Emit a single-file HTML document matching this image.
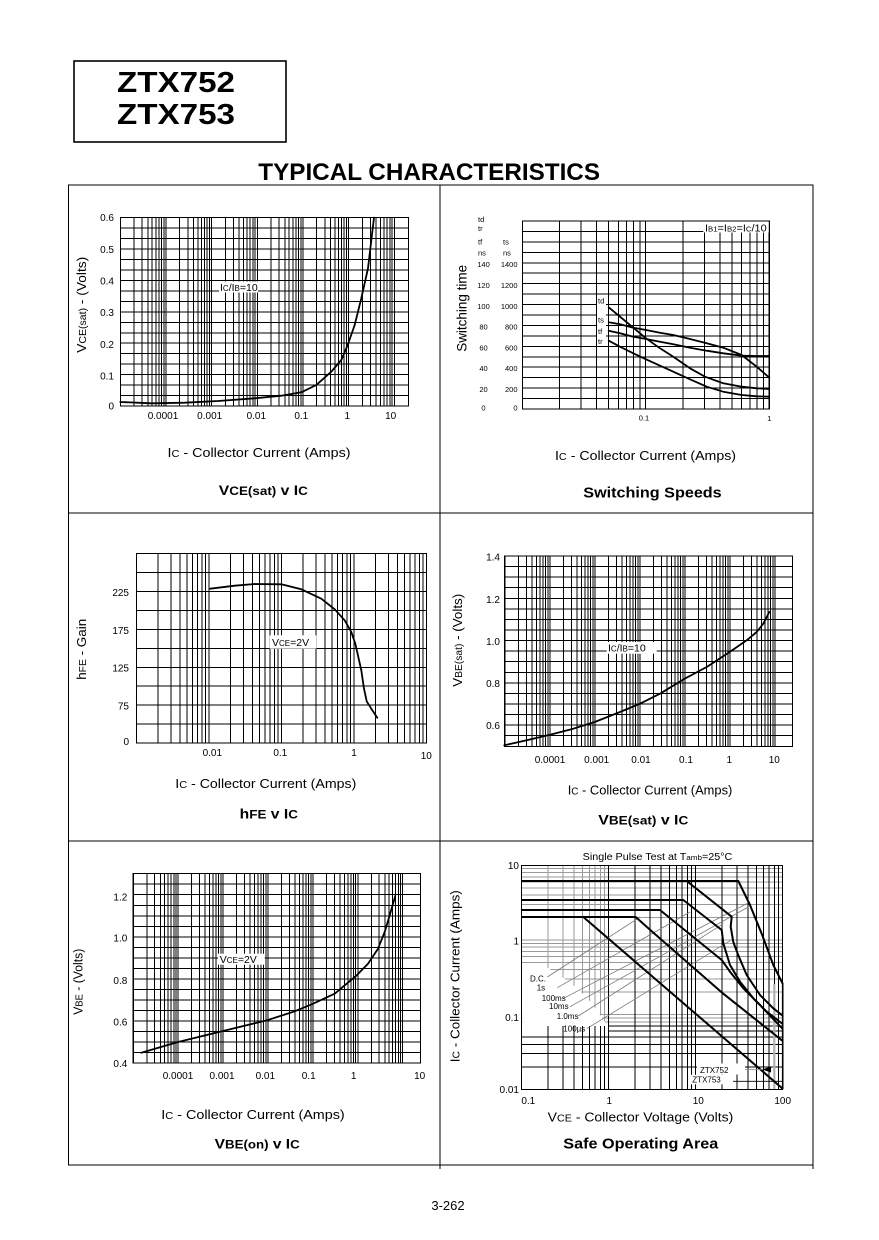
<!DOCTYPE html>
<html><head><meta charset="utf-8">
<style>
html,body{margin:0;padding:0;background:#fff;}
svg{display:block;}
text{font-family:"Liberation Sans",Arial,sans-serif;fill:#000;}
.g{fill:none;stroke:#000;stroke-width:1;shape-rendering:crispEdges;}
.gr{fill:none;stroke:#9a9a9a;stroke-width:1;shape-rendering:crispEdges;}
.c{fill:none;stroke:#000;stroke-width:1.8;stroke-linejoin:round;stroke-linecap:round;}
.s{fill:none;stroke:#000;stroke-width:2;stroke-linejoin:round;}
.ld{fill:none;stroke:#7a7a7a;stroke-width:0.8;}
.t{font-size:10px;}
.tm{text-anchor:middle;}
.te{text-anchor:end;}
.b{font-weight:bold;}
</style></head><body>
<svg width="879" height="1240" viewBox="0 0 879 1240" xmlns="http://www.w3.org/2000/svg">
<rect x="0" y="0" width="879" height="1240" fill="#fff"/>

<!-- Header -->
<rect x="74" y="61" width="212" height="81" fill="none" stroke="#000" stroke-width="1.6"/>
<text x="117" y="92" font-size="29" class="b" textLength="118" lengthAdjust="spacingAndGlyphs">ZTX752</text>
<text x="117" y="124" font-size="29" class="b" textLength="118" lengthAdjust="spacingAndGlyphs">ZTX753</text>
<text x="258.3" y="180" font-size="24" class="b" textLength="341.7" lengthAdjust="spacingAndGlyphs">TYPICAL CHARACTERISTICS</text>

<!-- Outer frame -->
<rect x="68.5" y="185" width="744.5" height="980" class="g"/>
<path class="g" d="M440 185V1165M68.5 513H813M68.5 841H813"/>

<!-- ============ Chart 1: VCE(sat) v IC ============ -->
<path class="g" vector-effect="non-scaling-stroke" transform="translate(120.3,217.7) scale(45.67,188.3)" d="M0 0V1M.30103 0V1M.47712 0V1M.60206 0V1M.69897 0V1M.77815 0V1M.8451 0V1M.90309 0V1M.95424 0V1M1 0V1M1.30103 0V1M1.47712 0V1M1.60206 0V1M1.69897 0V1M1.77815 0V1M1.8451 0V1M1.90309 0V1M1.95424 0V1M2 0V1M2.30103 0V1M2.47712 0V1M2.60206 0V1M2.69897 0V1M2.77815 0V1M2.8451 0V1M2.90309 0V1M2.95424 0V1M3 0V1M3.30103 0V1M3.47712 0V1M3.60206 0V1M3.69897 0V1M3.77815 0V1M3.8451 0V1M3.90309 0V1M3.95424 0V1M4 0V1M4.30103 0V1M4.47712 0V1M4.60206 0V1M4.69897 0V1M4.77815 0V1M4.8451 0V1M4.90309 0V1M4.95424 0V1M5 0V1M5.30103 0V1M5.47712 0V1M5.60206 0V1M5.69897 0V1M5.77815 0V1M5.8451 0V1M5.90309 0V1M5.95424 0V1M6 0V1"/>
<path class="g" vector-effect="non-scaling-stroke" transform="translate(120.3,217.7) scale(288.4,10.461)" d="M0 0H1M0 1H1M0 2H1M0 3H1M0 4H1M0 5H1M0 6H1M0 7H1M0 8H1M0 9H1M0 10H1M0 11H1M0 12H1M0 13H1M0 14H1M0 15H1M0 16H1M0 17H1M0 18H1"/>
<rect x="120.3" y="217.7" width="288.4" height="188.3" class="g"/>
<rect x="219" y="281.5" width="39" height="11" fill="#fff"/>
<text x="220" y="291" font-size="10.5">I<tspan font-size="8">C</tspan>/I<tspan font-size="8">B</tspan>=10</text>
<polyline class="c" points="120.3,402 151.3,403.3 184.7,402.7 218,401 254.7,398.3 281.3,395.7 301.3,392.3 316.3,385 331.3,371.7 341.3,360 347.3,346 354.7,325 361.3,298.3 368,268.3 374,217.7"/>
<g class="t te">
<text x="114" y="221.2">0.6</text>
<text x="114" y="252.8">0.5</text>
<text x="114" y="284.5">0.4</text>
<text x="114" y="316.2">0.3</text>
<text x="114" y="347.8">0.2</text>
<text x="114" y="379.5">0.1</text>
<text x="114" y="409.5">0</text>
</g>
<g class="t tm">
<text x="163" y="419">0.0001</text>
<text x="209.7" y="419">0.001</text>
<text x="256.3" y="419">0.01</text>
<text x="301.3" y="419">0.1</text>
<text x="347.3" y="419">1</text>
<text x="390.7" y="419">10</text>
</g>
<text x="81.3" y="309.3" transform="rotate(-90 81.3 304.8)" class="tm" font-size="13" textLength="96" lengthAdjust="spacingAndGlyphs">V<tspan font-size="10">CE(sat)</tspan> - (Volts)</text>
<text x="259" y="457" class="tm" font-size="13" textLength="183" lengthAdjust="spacingAndGlyphs">I<tspan font-size="10">C</tspan> - Collector Current (Amps)</text>
<text x="263.3" y="495" class="tm b" font-size="14" textLength="89" lengthAdjust="spacingAndGlyphs">V<tspan font-size="12">CE(sat)</tspan> v I<tspan font-size="12">C</tspan></text>

<!-- ============ Chart 2: Switching Speeds ============ -->
<path class="g" vector-effect="non-scaling-stroke" transform="translate(522.3,221) scale(123.33,188)" d="M0 0V1M.30103 0V1M.47712 0V1M.60206 0V1M.69897 0V1M.77815 0V1M.8451 0V1M.90309 0V1M.95424 0V1M1 0V1M1.30103 0V1M1.47712 0V1M1.60206 0V1M1.69897 0V1M1.77815 0V1M1.8451 0V1M1.90309 0V1M1.95424 0V1M2 0V1"/>
<path class="g" vector-effect="non-scaling-stroke" transform="translate(522.3,221) scale(247,10.444)" d="M0 0H1M0 1H1M0 2H1M0 3H1M0 4H1M0 5H1M0 6H1M0 7H1M0 8H1M0 9H1M0 10H1M0 11H1M0 12H1M0 13H1M0 14H1M0 15H1M0 16H1M0 17H1M0 18H1"/>
<rect x="522.3" y="221" width="247" height="188" class="g"/>
<rect x="703.3" y="221.5" width="65.5" height="11" fill="#fff"/>
<text x="705" y="231.3" font-size="10.5" textLength="61.7" lengthAdjust="spacingAndGlyphs">I<tspan font-size="7.5">B1</tspan>=I<tspan font-size="7.5">B2</tspan>=I<tspan font-size="7.5">C</tspan>/10</text>
<rect x="597" y="296" width="9" height="50" fill="#fff"/>
<g font-size="7.5">
<text x="598" y="303.5">td</text>
<text x="598" y="322.5">ts</text>
<text x="598" y="334">tf</text>
<text x="598" y="344">tr</text>
</g>
<polyline class="c" points="608.7,307.3 620,316.7 633.3,327.7 646,338.3 660,348.3 673.3,356.7 690,368.3 705,376.7 723.3,383.3 741.7,386.7 756.7,388.3 769.3,389"/>
<polyline class="c" points="608.7,322.3 620,324.3 633.3,327.7 646,330 660,332.7 673.3,335 690,339 706.7,343.3 723.3,347.7 741.7,355 756.7,366.7 769.3,377.7"/>
<polyline class="c" points="608.7,330.7 620,333.3 633.3,336.7 646,339 660,341.7 673.3,344.3 690,347.7 706.7,350.7 723.3,353.3 741.7,355.7 756.7,356 769.3,356"/>
<polyline class="c" points="608.7,340.7 620,346.7 633.3,353.3 646,359.3 660,365.7 673.3,371.7 690,379.3 706.7,386.7 723.3,391.7 741.7,395 756.7,396.3 769.3,396.7"/>
<g font-size="7.5">
<text x="478" y="222">td</text>
<text x="478" y="231">tr</text>
<text x="478" y="244.5">tf</text>
<text x="478" y="255.5">ns</text>
<text x="503" y="244.5">ts</text>
<text x="503" y="255.5">ns</text>
</g>
<g font-size="7.5" class="tm">
<text x="483.5" y="267">140</text>
<text x="483.5" y="287.8">120</text>
<text x="483.5" y="308.8">100</text>
<text x="483.5" y="329.5">80</text>
<text x="483.5" y="350.5">60</text>
<text x="483.5" y="371">40</text>
<text x="483.5" y="392">20</text>
<text x="483.5" y="410.5">0</text>
</g>
<g font-size="7.5" class="te">
<text x="517.5" y="267">1400</text>
<text x="517.5" y="287.8">1200</text>
<text x="517.5" y="308.8">1000</text>
<text x="517.5" y="329.5">800</text>
<text x="517.5" y="350.5">600</text>
<text x="517.5" y="371">400</text>
<text x="517.5" y="392">200</text>
<text x="517.5" y="410.5">0</text>
</g>
<g font-size="7.5" class="tm">
<text x="644" y="420.5">0.1</text>
<text x="769.3" y="421">1</text>
</g>
<text x="461.7" y="313.3" transform="rotate(-90 461.7 308.3)" class="tm" font-size="14" textLength="87" lengthAdjust="spacingAndGlyphs">Switching time</text>
<text x="645.5" y="460" class="tm" font-size="13" textLength="181" lengthAdjust="spacingAndGlyphs">I<tspan font-size="10">C</tspan> - Collector Current (Amps)</text>
<text x="652.5" y="497.5" class="tm b" font-size="14.5" textLength="138.4" lengthAdjust="spacingAndGlyphs">Switching Speeds</text>

<!-- ============ Chart 3: hFE v IC ============ -->
<path class="g" vector-effect="non-scaling-stroke" transform="translate(136.3,553.7) scale(72.5,189.3)" d="M0 0V1M.30103 0V1M.47712 0V1M.60206 0V1M.69897 0V1M.77815 0V1M.8451 0V1M.90309 0V1M.95424 0V1M1 0V1M1.30103 0V1M1.47712 0V1M1.60206 0V1M1.69897 0V1M1.77815 0V1M1.8451 0V1M1.90309 0V1M1.95424 0V1M2 0V1M2.30103 0V1M2.47712 0V1M2.60206 0V1M2.69897 0V1M2.77815 0V1M2.8451 0V1M2.90309 0V1M2.95424 0V1M3 0V1M3.30103 0V1M3.47712 0V1M3.60206 0V1M3.69897 0V1M3.77815 0V1M3.8451 0V1M3.90309 0V1M3.95424 0V1M4 0V1"/>
<path class="g" vector-effect="non-scaling-stroke" transform="translate(136.3,553.7) scale(290,18.93)" d="M0 0H1M0 1H1M0 2H1M0 3H1M0 4H1M0 5H1M0 6H1M0 7H1M0 8H1M0 9H1M0 10H1"/>
<rect x="136.3" y="553.7" width="290" height="189.3" class="g"/>
<rect x="269.7" y="635.3" width="46.6" height="13.4" fill="#fff"/>
<text x="272" y="646" font-size="10.5">V<tspan font-size="8">CE</tspan>=2V</text>
<polyline class="c" points="210.3,588.7 234.7,585.7 254.7,584 281.3,584.3 301.3,589.3 321.3,598.7 334.7,609.3 344.7,620.3 351.3,632 355.3,643.7 358.7,658.7 361.3,670.3 364,688.7 366.7,701.3 371.3,708.7 377.3,717.7"/>
<g class="t te">
<text x="129" y="596.2">225</text>
<text x="129" y="633.8">175</text>
<text x="129" y="671.5">125</text>
<text x="129" y="709.5">75</text>
<text x="129" y="744.8">0</text>
</g>
<g class="t tm">
<text x="212.3" y="756">0.01</text>
<text x="280.3" y="756">0.1</text>
<text x="354" y="756">1</text>
<text x="426.3" y="759">10</text>
</g>
<text x="81.3" y="653.8" transform="rotate(-90 81.3 649.3)" class="tm" font-size="13" textLength="61" lengthAdjust="spacingAndGlyphs">h<tspan font-size="10">FE</tspan> - Gain</text>
<text x="265.8" y="788" class="tm" font-size="13" textLength="181" lengthAdjust="spacingAndGlyphs">I<tspan font-size="10">C</tspan> - Collector Current (Amps)</text>
<text x="268.8" y="818.5" class="tm b" font-size="14" textLength="58.3" lengthAdjust="spacingAndGlyphs">h<tspan font-size="12">FE</tspan> v I<tspan font-size="12">C</tspan></text>

<!-- ============ Chart 4: VBE(sat) v IC ============ -->
<path class="g" vector-effect="non-scaling-stroke" transform="translate(505,556) scale(45,190.3)" d="M0 0V1M.30103 0V1M.47712 0V1M.60206 0V1M.69897 0V1M.77815 0V1M.8451 0V1M.90309 0V1M.95424 0V1M1 0V1M1.30103 0V1M1.47712 0V1M1.60206 0V1M1.69897 0V1M1.77815 0V1M1.8451 0V1M1.90309 0V1M1.95424 0V1M2 0V1M2.30103 0V1M2.47712 0V1M2.60206 0V1M2.69897 0V1M2.77815 0V1M2.8451 0V1M2.90309 0V1M2.95424 0V1M3 0V1M3.30103 0V1M3.47712 0V1M3.60206 0V1M3.69897 0V1M3.77815 0V1M3.8451 0V1M3.90309 0V1M3.95424 0V1M4 0V1M4.30103 0V1M4.47712 0V1M4.60206 0V1M4.69897 0V1M4.77815 0V1M4.8451 0V1M4.90309 0V1M4.95424 0V1M5 0V1M5.30103 0V1M5.47712 0V1M5.60206 0V1M5.69897 0V1M5.77815 0V1M5.8451 0V1M5.90309 0V1M5.95424 0V1M6 0V1"/>
<path class="g" vector-effect="non-scaling-stroke" transform="translate(504.3,556) scale(288.4,10.572)" d="M0 0H1M0 1H1M0 2H1M0 3H1M0 4H1M0 5H1M0 6H1M0 7H1M0 8H1M0 9H1M0 10H1M0 11H1M0 12H1M0 13H1M0 14H1M0 15H1M0 16H1M0 17H1M0 18H1"/>
<rect x="504.3" y="556" width="288.4" height="190.3" class="g"/>
<rect x="606.7" y="642" width="50" height="11.7" fill="#fff"/>
<text x="608" y="651.5" font-size="10.5">I<tspan font-size="8">C</tspan>/I<tspan font-size="8">B</tspan>=10</text>
<polyline class="c" points="504.3,745.3 526.7,740.3 550,734.7 573.3,728.7 594.7,722 620,712 640,703.7 660,693.7 684.7,678.7 706.7,667 729.7,652 746.7,640.3 756.7,632 763.3,623.7 769.3,612"/>
<g class="t te">
<text x="500" y="560.5">1.4</text>
<text x="500" y="602.8">1.2</text>
<text x="500" y="644.8">1.0</text>
<text x="500" y="687.2">0.8</text>
<text x="500" y="728.8">0.6</text>
</g>
<g class="t tm">
<text x="550" y="762.8">0.0001</text>
<text x="596.7" y="762.8">0.001</text>
<text x="641" y="762.8">0.01</text>
<text x="686" y="762.8">0.1</text>
<text x="729.3" y="762.8">1</text>
<text x="774.3" y="762.8">10</text>
</g>
<text x="457.3" y="644.8" transform="rotate(-90 457.3 640.3)" class="tm" font-size="13" textLength="93" lengthAdjust="spacingAndGlyphs">V<tspan font-size="10">BE(sat)</tspan> - (Volts)</text>
<text x="650" y="794.5" class="tm" font-size="13" textLength="164.6" lengthAdjust="spacingAndGlyphs">I<tspan font-size="10">C</tspan> - Collector Current (Amps)</text>
<text x="643.3" y="824.5" class="tm b" font-size="14" textLength="90" lengthAdjust="spacingAndGlyphs">V<tspan font-size="12">BE(sat)</tspan> v I<tspan font-size="12">C</tspan></text>

<!-- ============ Chart 5: VBE(on) v IC ============ -->
<path class="g" vector-effect="non-scaling-stroke" transform="translate(133.3,873.7) scale(44.9,189.3)" d="M0 0V1M.30103 0V1M.47712 0V1M.60206 0V1M.69897 0V1M.77815 0V1M.8451 0V1M.90309 0V1M.95424 0V1M1 0V1M1.30103 0V1M1.47712 0V1M1.60206 0V1M1.69897 0V1M1.77815 0V1M1.8451 0V1M1.90309 0V1M1.95424 0V1M2 0V1M2.30103 0V1M2.47712 0V1M2.60206 0V1M2.69897 0V1M2.77815 0V1M2.8451 0V1M2.90309 0V1M2.95424 0V1M3 0V1M3.30103 0V1M3.47712 0V1M3.60206 0V1M3.69897 0V1M3.77815 0V1M3.8451 0V1M3.90309 0V1M3.95424 0V1M4 0V1M4.30103 0V1M4.47712 0V1M4.60206 0V1M4.69897 0V1M4.77815 0V1M4.8451 0V1M4.90309 0V1M4.95424 0V1M5 0V1M5.30103 0V1M5.47712 0V1M5.60206 0V1M5.69897 0V1M5.77815 0V1M5.8451 0V1M5.90309 0V1M5.95424 0V1M6 0V1"/>
<path class="g" vector-effect="non-scaling-stroke" transform="translate(133,873.7) scale(287.7,10.517)" d="M0 0H1M0 1H1M0 2H1M0 3H1M0 4H1M0 5H1M0 6H1M0 7H1M0 8H1M0 9H1M0 10H1M0 11H1M0 12H1M0 13H1M0 14H1M0 15H1M0 16H1M0 17H1M0 18H1"/>
<rect x="133" y="873.7" width="287.7" height="189.3" class="g"/>
<rect x="218" y="953.7" width="46.7" height="11" fill="#fff"/>
<text x="219.7" y="962.8" font-size="10.5">V<tspan font-size="8">CE</tspan>=2V</text>
<polyline class="c" points="141.3,1052.7 178,1042 222,1031.3 267,1020.3 294.7,1011.3 311.7,1004.3 334.7,993.7 356.7,975.3 368,963.7 378,948.7 384.7,932 389.7,915.3 395.3,896"/>
<g class="t te">
<text x="127.3" y="900.5">1.2</text>
<text x="127.3" y="941.5">1.0</text>
<text x="127.3" y="983.8">0.8</text>
<text x="127.3" y="1025.5">0.6</text>
<text x="127.3" y="1067.2">0.4</text>
</g>
<g class="t tm">
<text x="178" y="1078.8">0.0001</text>
<text x="222" y="1078.8">0.001</text>
<text x="265.3" y="1078.8">0.01</text>
<text x="308.7" y="1078.8">0.1</text>
<text x="353.7" y="1078.8">1</text>
<text x="419.7" y="1078.8">10</text>
</g>
<text x="78" y="986.2" transform="rotate(-90 78 981.7)" class="tm" font-size="13" textLength="66" lengthAdjust="spacingAndGlyphs">V<tspan font-size="10">BE</tspan> - (Volts)</text>
<text x="253" y="1119" class="tm" font-size="13" textLength="183.4" lengthAdjust="spacingAndGlyphs">I<tspan font-size="10">C</tspan> - Collector Current (Amps)</text>
<text x="257.2" y="1148.5" class="tm b" font-size="14" textLength="85" lengthAdjust="spacingAndGlyphs">V<tspan font-size="12">BE(on)</tspan> v I<tspan font-size="12">C</tspan></text>

<!-- ============ Chart 6: Safe Operating Area ============ -->
<g transform="translate(521.7,1089.3) scale(87,-74.67)">
<path class="gr" vector-effect="non-scaling-stroke" d="M0 .90309H3M0 .95424H3M0 1H3M0 1.30103H3M0 1.47712H3M0 1.60206H3M0 1.69897H3M0 1.77815H3M0 1.8451H3M0 1.90309H3M0 1.95424H3M0 2H3M0 2.30103H3M0 2.47712H3M0 2.60206H3M0 2.69897H3M0 2.77815H3M0 2.8451H3M0 2.90309H3M0 2.95424H3"/>
<path class="gr" vector-effect="non-scaling-stroke" d="M.30103 .8451V3M.47712 .8451V3M.60206 .8451V3M.69897 .8451V3M.77815 .8451V3M.8451 .8451V3M.90309 .8451V3M.95424 .8451V3"/>
</g>
<polygon points="522.3,968 548,968 565,979 578,989 588,999 596,1009 603,1019 608.8,1027 608.8,1035.8 522.3,1035.8" fill="#fff"/>
<g transform="translate(521.7,1089.3) scale(87,-74.67)">
<path class="g" vector-effect="non-scaling-stroke" d="M0 .30103H3M0 .47712H3M0 .60206H3M0 .69897H3M1 .77815H3M1 .8451H3"/>
<path class="g" vector-effect="non-scaling-stroke" d="M.30103 0V.8451M.47712 0V.8451M.60206 0V.8451M.69897 0V.8451M.77815 0V.8451M.8451 0V.8451M.90309 0V.8451M.95424 0V.8451"/>
<path class="g" vector-effect="non-scaling-stroke" d="M1 0V3M1.30103 0V3M1.47712 0V3M1.60206 0V3M1.69897 0V3M1.77815 0V3M1.8451 0V3M1.90309 0V3M1.95424 0V3M2 0V3M2.30103 0V3M2.47712 0V3M2.60206 0V3M2.69897 0V3M2.77815 0V3M2.8451 0V3M2.90309 0V3M2.95424 0V3"/>
</g>
<rect x="521.7" y="865.3" width="261" height="224" class="g"/>
<line x1="774.3" y1="984" x2="774.3" y2="1089" stroke="#b0b0b0" stroke-width="2.2"/>
<!-- leader lines -->
<path class="ld" d="M547.3 977L640 917M557.3 987.7L690 912M562.7 998.7L750 902M570 1006.7L748.3 907M578.3 1016L723.3 923.7M586.7 1028.7L733.3 938.7"/>
<!-- SOA curves -->
<polyline class="s" points="521.7,917 583.3,917 782.7,1088.7"/>
<polyline class="s" points="521.7,917 635.7,917 650,929.7 723.3,993.7 782.7,1041"/>
<polyline class="s" points="521.7,910 660,910 721.7,960 730,971.7 743.3,988.3 760,1005 782.7,1029"/>
<polyline class="s" points="521.7,900 683.3,900 721.7,930 723.3,943.3 730,965 740,981.7 753.3,998.3 766.7,1011.7 782.7,1024"/>
<polyline class="s" points="521.7,881 686.7,881 731.7,916.7 730.7,926.7 733.3,942 738.3,955.3 746.7,975 760,995 773.3,1008.3 782.7,1015.7"/>
<polyline class="s" points="521.7,881 738.3,881 750,905 761.7,933.7 773.3,965 782.7,983.7"/>
<line x1="782.7" y1="983" x2="782.7" y2="1089.3" stroke="#000" stroke-width="1.6"/>
<!-- curve labels -->
<g font-size="8">
<text x="530" y="981.7">D.C.</text>
<text x="536.7" y="990.7">1s</text>
<text x="541.7" y="1001">100ms</text>
<text x="549" y="1009">10ms</text>
<text x="556.7" y="1019">1.0ms</text>
<text x="563.3" y="1031.7">100µs</text>
</g>
<rect x="697" y="1063.5" width="48" height="11" fill="#fff"/>
<rect x="689" y="1074.8" width="44" height="9.5" fill="#fff"/>
<text x="700" y="1072.8" font-size="8">ZTX752</text>
<text x="692.3" y="1082.3" font-size="8">ZTX753</text>
<line x1="745" y1="1069.5" x2="762" y2="1069.5" stroke="#8a8a8a" stroke-width="0.8"/>
<polygon points="762,1069.5 771,1066.5 771,1072.5" fill="#000"/>
<line x1="733" y1="1081.3" x2="782" y2="1081.3" stroke="#000" stroke-width="0.8"/>
<g class="t te">
<text x="519" y="868.8">10</text>
<text x="519" y="944.5">1</text>
<text x="519" y="1021.2">0.1</text>
<text x="519" y="1092.8">0.01</text>
</g>
<g class="t tm">
<text x="528.3" y="1103.8">0.1</text>
<text x="609.3" y="1103.8">1</text>
<text x="698.3" y="1103.8">10</text>
<text x="782.7" y="1103.8">100</text>
</g>
<text x="657.5" y="860" class="tm" font-size="10" textLength="149.6" lengthAdjust="spacingAndGlyphs">Single Pulse Test at T<tspan font-size="7.5">amb</tspan>=25°C</text>
<text x="455" y="980.7" transform="rotate(-90 455 976.2)" class="tm" font-size="13" textLength="172" lengthAdjust="spacingAndGlyphs">I<tspan font-size="10">C</tspan> - Collector Current (Amps)</text>
<text x="640.5" y="1121.5" class="tm" font-size="13" textLength="185.6" lengthAdjust="spacingAndGlyphs">V<tspan font-size="10">CE</tspan> - Collector Voltage (Volts)</text>
<text x="640.8" y="1148.5" class="tm b" font-size="14.5" textLength="155" lengthAdjust="spacingAndGlyphs">Safe Operating Area</text>

<!-- small marks at bottom -->
<path class="g" d="M440 1165V1169M813 1165V1169"/>

<!-- page number -->
<text x="448" y="1210" class="tm" font-size="13">3-262</text>
</svg>
</body></html>
